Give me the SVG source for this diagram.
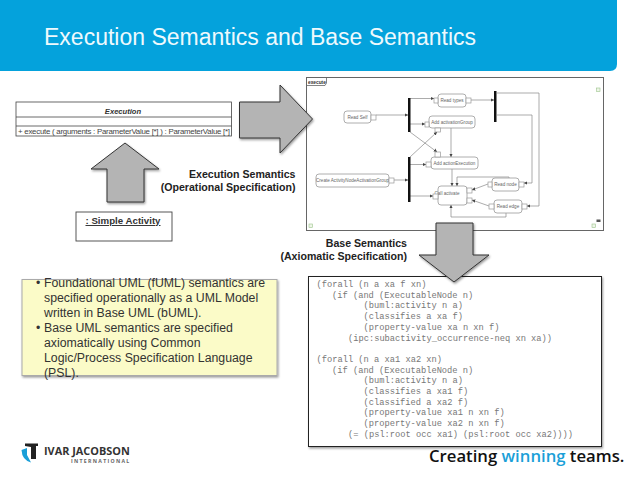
<svg xmlns="http://www.w3.org/2000/svg" width="638" height="478" viewBox="0 0 638 478">
<style>
.s{font-family:"Liberation Sans",Arial,sans-serif}
.b{font-weight:bold}
.lab{font-family:"Liberation Sans",Arial,sans-serif;font-weight:bold;font-size:10.6px;fill:#222;text-anchor:end}
.bul{font-family:"Liberation Sans",Arial,sans-serif;font-size:12.3px;fill:#333}
.code{font-family:"Liberation Mono",monospace;font-size:8.72px;fill:#777}
.act{fill:#fff;stroke:#999;stroke-width:.8}
.pin{fill:#fff;stroke:#999;stroke-width:.7}
.fork{fill:#111}
.at{font-family:"Liberation Sans",Arial,sans-serif;font-size:4.6px;fill:#666;text-anchor:middle}
.con{fill:none;stroke:#888;stroke-width:.7;marker-end:url(#ah)}
.arrow{fill:#b4b4b4;stroke:#333;stroke-width:1;filter:url(#sh)}
.green{fill:#eef6e8;stroke:#9bc48a;stroke-width:.6}
</style>
<defs>
<marker id="ah" markerWidth="4" markerHeight="4" refX="3.4" refY="2" orient="auto" markerUnits="userSpaceOnUse"><path d="M0 .3L3.6 2L0 3.7z" fill="#444"/></marker>
<filter id="sh" x="-10%" y="-10%" width="125%" height="125%"><feDropShadow dx="1" dy="1.5" stdDeviation="1.2" flood-color="#000" flood-opacity=".4"/></filter>
</defs>
<rect width="638" height="478" fill="#fff"/>
<g id="header">
<path d="M0 0H617V64Q617 71 610 71H0z" fill="#04a2dc"/>
<text class="s" x="44" y="45" font-size="23" fill="#eef9fd">Execution Semantics and Base Semantics</text>
</g>
<g id="execute-frame">
<rect x="306.500" y="77.500" width="297" height="153" fill="#fff" stroke="#666"/>
<path d="M306.500 85.500H325L326.500 83V77.500" fill="none" stroke="#666" stroke-width=".8"/>
<text x="308" y="83.500" font-family="Liberation Sans,sans-serif" font-size="4.800" font-weight="bold" fill="#333">execute</text>
<rect class="green" x="596.500" y="88" width="3.500" height="3.500"/>
<rect class="green" x="309" y="224" width="3.500" height="3.500"/>
<rect class="green" x="592" y="224" width="3.500" height="3.500"/>
<rect x="596.500" y="219.500" width="4" height="2.500" fill="#555"/>
</g>
<g id="connectors">
<path class="con" d="M376 115H408"/>
<path class="con" d="M410 98.500H434"/>
<path class="con" d="M410 124H425"/>
<path class="con" d="M410 132L437 152"/>
<path class="con" d="M410 157L437 132"/>
<path class="con" d="M410 164.500H426"/>
<path class="con" d="M410 196H433"/>
<path class="con" d="M394 180H408"/>
<path class="con" d="M471 100H494"/>
<path class="con" d="M497 93H539V206H527"/>
<path class="con" d="M497 115H532V183H524"/>
<path class="con" d="M451 128V157"/>
<path class="con" d="M452 169V186"/>
<path class="con" d="M488 184L472 190"/>
<path class="con" d="M489 206L472 200"/>
<path class="con" d="M509 178V177H457V186"/>
<path class="con" d="M506 213V217H451V205"/>
</g>
<g id="read-self"><rect class="act" x="344" y="111" width="27" height="12" rx="3"/><text class="at" x="357.500" y="118.500">Read Self</text><rect class="pin" x="371" y="115" width="5" height="5"/></g>
<g id="fork-1"><rect class="fork" x="408" y="98" width="2.500" height="34"/></g>
<g id="fork-2"><rect class="fork" x="408" y="157" width="2.500" height="45"/></g>
<g id="fork-3"><rect class="fork" x="494" y="91" width="2.500" height="31"/></g>
<g id="read-types"><rect class="act" x="438" y="94" width="28" height="13" rx="3"/><text class="at" x="452" y="102">Read types</text><rect class="pin" x="434" y="98" width="4" height="5"/><rect class="pin" x="466" y="98" width="5" height="5"/></g>
<g id="add-activation-group"><rect class="act" x="429" y="116" width="46" height="12" rx="3"/><text class="at" x="452" y="123.500">Add activationGroup</text><rect class="pin" x="425" y="122" width="4" height="5"/><rect class="pin" x="435" y="128" width="5.500" height="4"/></g>
<g id="add-action-execution"><rect class="act" x="431" y="157" width="47" height="12" rx="3"/><text class="at" x="454.500" y="164.500">Add actionExecution</text><rect class="pin" x="426" y="162" width="5" height="5"/><rect class="pin" x="435" y="152" width="5.500" height="5"/></g>
<g id="create-group"><rect class="act" x="316" y="174" width="73" height="13" rx="3"/><text class="at" x="352.500" y="182">Create ActivityNodeActivationGroup</text><rect class="pin" x="389" y="178" width="5" height="5"/></g>
<g id="call-activate"><rect class="act" x="438" y="186" width="29" height="19" rx="3"/><text class="at" x="447" y="194.500">Call activate</text><rect class="pin" x="433" y="194" width="5" height="5"/><rect class="pin" x="467" y="188" width="5" height="5"/><rect class="pin" x="467" y="198" width="5" height="5"/></g>
<g id="read-node"><rect class="act" x="492" y="178" width="27" height="13" rx="3"/><text class="at" x="505.500" y="186">Read node</text><rect class="pin" x="488" y="182" width="4" height="5"/><rect class="pin" x="519" y="182" width="5" height="5"/></g>
<g id="read-edge"><rect class="act" x="494" y="200" width="28" height="13" rx="3"/><text class="at" x="508" y="208">Read edge</text><rect class="pin" x="489" y="204" width="5" height="5"/><rect class="pin" x="522" y="204" width="5" height="5"/></g>
<g id="execution-class">
<rect x="16" y="102" width="215.500" height="34" fill="#fff" stroke="#444" stroke-width=".8"/>
<path d="M16 117H231.500M16 126H231.500" stroke="#444" stroke-width=".8"/>
<text x="123" y="113.500" text-anchor="middle" font-family="Liberation Sans,sans-serif" font-size="7.600" font-style="italic" font-weight="bold" fill="#333">Execution</text>
<text x="18" y="134" font-family="Liberation Sans,sans-serif" font-size="7.900" fill="#444" textLength="212">+ execute ( arguments : ParameterValue [*] ) : ParameterValue [*]</text>
</g>
<g id="simple-activity">
<rect x="76" y="212" width="96" height="29" fill="#fff" stroke="#444" stroke-width=".9"/>
<text x="123" y="224" text-anchor="middle" text-decoration="underline" font-family="Liberation Sans,sans-serif" font-size="9.700" font-weight="bold" fill="#333">: Simple Activity</text>
</g>
<path id="arrow-up" class="arrow" d="M125 143L159 169H144V202H107V169H91z"/>
<path id="arrow-right" class="arrow" d="M239.500 102H280V85L312.500 119L280 153V138H239.500z"/>
<text class="lab" x="295.500" y="178">Execution Semantics</text>
<text class="lab" x="295.500" y="191">(Operational Specification)</text>
<g id="code-box">
<rect x="308.500" y="276.500" width="293" height="170" fill="#fff" stroke="#222" filter="url(#sh)"/>
<text class="code" x="316.500" y="287">(forall (n a xa f xn)</text>
<text class="code" x="332" y="297.700">(if (and (ExecutableNode n)</text>
<text class="code" x="363.500" y="308.400">(buml:activity n a)</text>
<text class="code" x="363.500" y="319.100">(classifies a xa f)</text>
<text class="code" x="363.500" y="329.800">(property-value xa n xn f)</text>
<text class="code" x="348" y="340.500">(ipc:subactivity_occurrence-neq xn xa))</text>
<text class="code" x="316.500" y="361.900">(forall (n a xa1 xa2 xn)</text>
<text class="code" x="332" y="372.600">(if (and (ExecutableNode n)</text>
<text class="code" x="363.500" y="383.300">(buml:activity n a)</text>
<text class="code" x="363.500" y="394">(classifies a xa1 f)</text>
<text class="code" x="363.500" y="404.700">(classified a xa2 f)</text>
<text class="code" x="363.500" y="415.400">(property-value xa1 n xn f)</text>
<text class="code" x="363.500" y="426.100">(property-value xa2 n xn f)</text>
<text class="code" x="348" y="436.800">(= (psl:root occ xa1) (psl:root occ xa2))))</text>
</g>
<path id="arrow-down" class="arrow" d="M436 223H473V255H489L454 282L419 255H436z"/>
<text class="lab" x="407" y="247">Base Semantics</text>
<text class="lab" x="407" y="259.500">(Axiomatic Specification)</text>
<g id="bullets">
<rect x="22" y="279.500" width="255" height="96" fill="#fbfbc8" stroke="#aaa" filter="url(#sh)"/>
<text class="bul" x="36" y="287">•</text><text class="bul" x="44" y="287">Foundational UML (fUML) semantics are</text>
<text class="bul" x="44" y="302">specified operationally as a UML Model</text>
<text class="bul" x="44" y="317">written in Base UML (bUML).</text>
<text class="bul" x="36" y="332">•</text><text class="bul" x="44" y="332">Base UML semantics are specified</text>
<text class="bul" x="44" y="347">axiomatically using Common</text>
<text class="bul" x="44" y="362">Logic/Process Specification Language</text>
<text class="bul" x="44" y="377">(PSL).</text>
</g>
<g id="logo">
<path d="M25 443.500H38V446H36V459H31V447L25 446z" fill="#222"/>
<path d="M21.500 450L27 448V455L31 462.500Q22 460 21.500 450z" fill="#1a9fd8"/>
<text x="44" y="455" font-family="Open Sans,sans-serif" font-size="10.900" font-weight="bold" fill="#333">IVAR JACOBSON</text>
<text x="71" y="462.500" font-family="Open Sans,sans-serif" font-size="5.200" font-weight="bold" letter-spacing="1.300" fill="#666">INTERNATIONAL</text>
</g>
<text id="tagline" x="429" y="462" font-family="Open Sans,sans-serif" font-size="16.700" font-weight="600" fill="#111">Creating <tspan fill="#1a9fd8">winning</tspan> teams.</text>
</svg>
